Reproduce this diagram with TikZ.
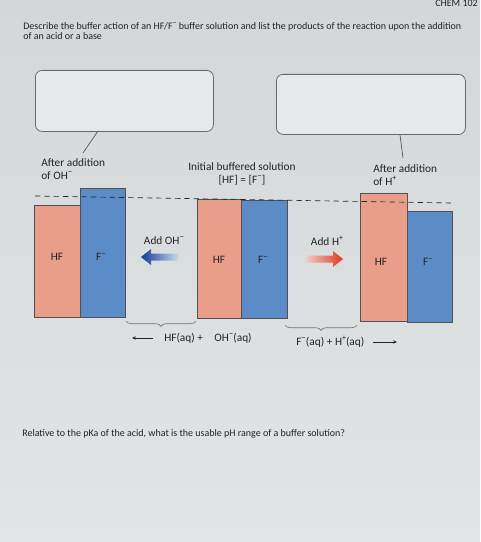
\documentclass[tikz,border=0pt]{standalone}
\usepackage{fontspec}
\setmainfont{Carlito}
\usetikzlibrary{decorations.pathreplacing,arrows.meta}
\definecolor{bgtop}{RGB}{212,215,215}
\definecolor{bgbot}{RGB}{226,229,229}
\definecolor{txt}{RGB}{35,35,40}
\definecolor{hfc}{RGB}{232,158,136}
\definecolor{fc}{RGB}{92,140,200}
\definecolor{edge}{RGB}{80,80,85}
\definecolor{bluedark}{RGB}{20,60,150}
\definecolor{bluelight}{RGB}{200,215,235}
\definecolor{redc}{RGB}{225,55,30}
\definecolor{redlight}{RGB}{240,205,195}
\newcommand{\mi}{\raisebox{0.42em}{\scalebox{0.8}{–}}}
\newcommand{\pl}{\raisebox{0.38em}{\scalebox{0.7}{+}}}
\begin{document}
\begin{tikzpicture}[x=0.75pt,y=-0.75pt,
  txtstyle/.style={text=txt,inner sep=0pt,font=\fontsize{7.5pt}{9pt}\selectfont},
  lbl/.style={text=txt,inner sep=0pt,font=\fontsize{8.5pt}{10pt}\selectfont},
  callout/.style={draw=edge!85,line width=0.6pt,rounded corners=5pt,fill=bgbot!85!white},
  hfbar/.style={draw=edge,line width=0.5pt,fill=hfc},
  fbar/.style={draw=edge,line width=0.5pt,fill=fc},
  thinline/.style={draw=edge,line width=0.5pt},
  bracestyle/.style={draw=edge!80,line width=0.5pt,decorate,decoration={brace,amplitude=4pt,mirror}}
]
\useasboundingbox (0,0) rectangle (480,542);
\shade[top color=bgtop,bottom color=bgbot] (0,0) rectangle (480,542);

% header texts
\node[txtstyle,anchor=base east] (chem) at (478,7) {CHEM 102};
\node[txtstyle,anchor=base west] (q1) at (23,30) {Describe the buffer action of an HF/F\mi\ buffer solution and list the products of the reaction upon the addition};
\node[txtstyle,anchor=base west] (q2) at (23,40) {of an acid or a base};

% callout boxes
\node[callout,minimum width=178*0.75pt,minimum height=61*0.75pt,anchor=north west] (boxL) at (35,70) {};
\node[callout,minimum width=189*0.75pt,minimum height=60*0.75pt,anchor=north west] (boxR) at (276,74) {};
\coordinate (pL1) at (98,131);
\coordinate (pL2) at (83,153);
\coordinate (pR1) at (400,135);
\coordinate (pR2) at (403,158);
\draw[thinline] (pL1) -- (pL2);
\draw[thinline] (pR1) -- (pR2);

% top labels
\node[lbl,anchor=base west] (aL1) at (41,166) {After addition};
\node[lbl,anchor=base west] (aL2) at (41,179) {of OH\mi};
\node[lbl,anchor=base] (init1) at (242,170) {Initial buffered solution};
\node[lbl,anchor=base] (init2) at (242,183) {[HF] = [F\mi]};
\node[lbl,anchor=base west] (aR1) at (373,172) {After addition};
\node[lbl,anchor=base west] (aR2) at (373,185) {of H\pl};

% bars
\draw[hfbar] (34,205) rectangle (80,317);
\draw[fbar] (80,188) rectangle (125,317);
\draw[hfbar] (197,199) rectangle (241,318);
\draw[fbar] (241,200) rectangle (287,318);
\draw[hfbar] (360,193) rectangle (407,321);
\draw[fbar] (407,211) rectangle (452,322);

\node[lbl] (hfL) at (57,257) {HF};
\node[lbl] (fL) at (101,257) {F\mi};
\node[lbl] (hfC) at (219,260) {HF};
\node[lbl] (fC) at (263,260) {F\mi};
\node[lbl] (hfR) at (381,262) {HF};
\node[lbl] (fR) at (428,262) {F\mi};

% dashed reference line
\coordinate (d1) at (35,196);
\coordinate (d2) at (452,203);
\draw[line width=0.5pt,draw=black!85,dash pattern=on 4pt off 3pt] (d1) -- (d2);

% add labels
\node[lbl,anchor=base] (addoh) at (164,244) {Add OH\mi};
\node[lbl,anchor=base] (addh) at (327,245) {Add H\pl};

% gradient arrows
\shade[left color=bluedark,right color=bluelight]
  (141,257) -- (151,249) -- (151,253.5) -- (178,253.5) -- (178,260.5) -- (151,260.5) -- (151,265) -- cycle;
\shade[left color=redlight,right color=redc]
  (343,259) -- (333,251) -- (333,255.5) -- (306,255.5) -- (306,262.5) -- (333,262.5) -- (333,267) -- cycle;

% braces
\coordinate (bL1) at (126,321);
\coordinate (bL2) at (196,321);
\coordinate (bR1) at (285,325);
\coordinate (bR2) at (357,325);
\draw[bracestyle] (bL1) -- (bL2);
\draw[bracestyle] (bR1) -- (bR2);

% reactions
\node[lbl,anchor=base west] (rx1) at (164,341) {HF(aq) +\quad OH\mi(aq)};
\node[lbl,anchor=base west] (rx2) at (296,345) {F\mi(aq) + H\pl(aq)};
\coordinate (al1) at (153,338);
\coordinate (al2) at (132,338);
\coordinate (ar1) at (373,342);
\coordinate (ar2) at (397,342);
\draw[thinline,draw=txt,-{Stealth[length=3pt,width=2.5pt]}] (al1) -- (al2);
\draw[thinline,draw=txt,-{Stealth[length=3pt,width=2.5pt]}] (ar1) -- (ar2);

% bottom question
\node[txtstyle,anchor=base west] (q3) at (22,436) {Relative to the pKa of the acid, what is the usable pH range of a buffer solution?};
\end{tikzpicture}
\end{document}
